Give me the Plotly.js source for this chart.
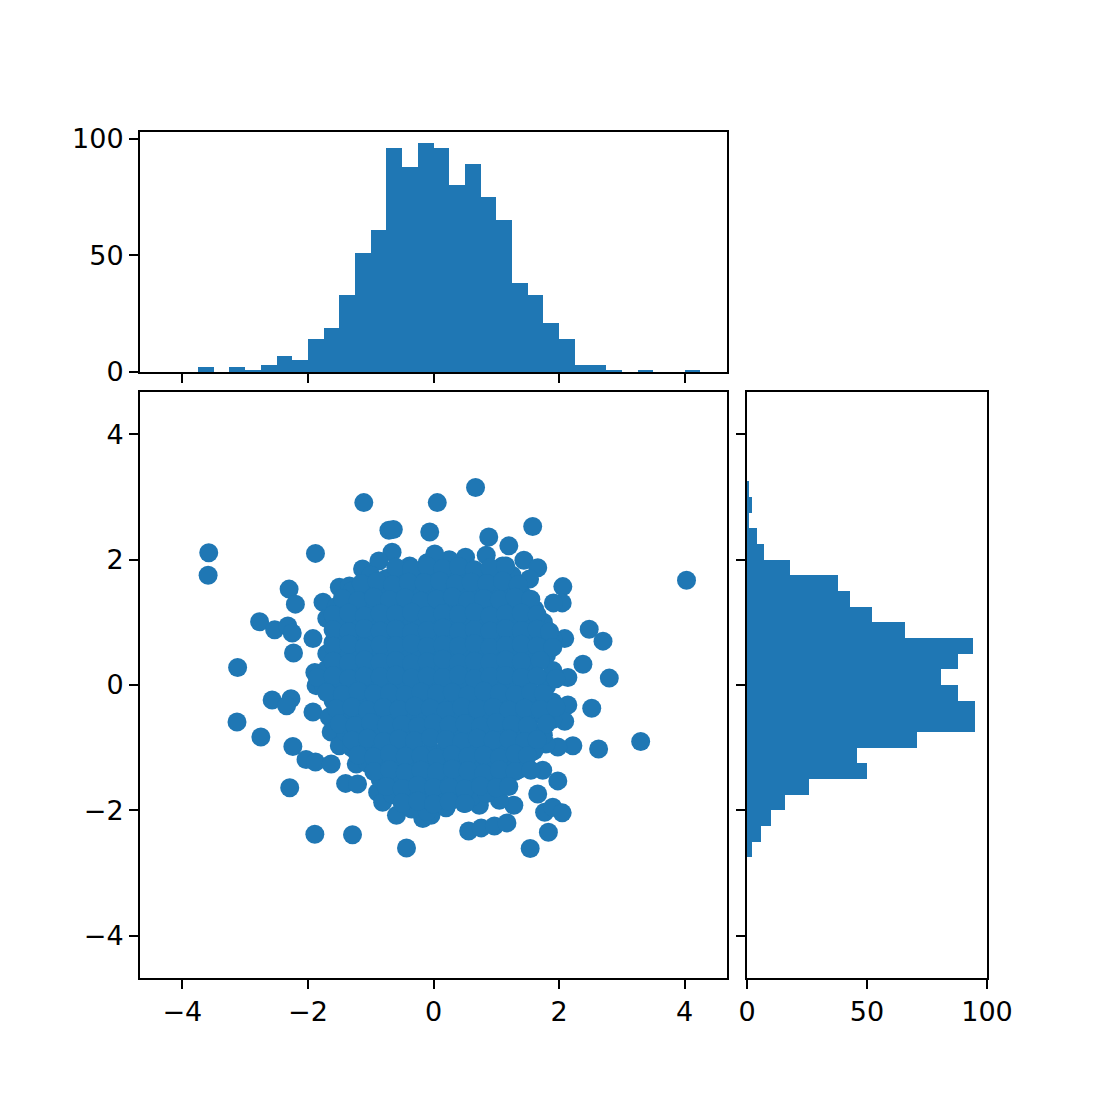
<!DOCTYPE html>
<html>
<head>
<meta charset="utf-8">
<script src="https://cdn.plot.ly/plotly-3.0.1.min.js"></script>
<style>html,body{margin:0;padding:0;background:#fff;}#chart{width:1100px;height:1100px;}</style>
</head>
<body>
<div id="chart"></div>
<script>
// Outlying scatter points
const outerX = [-3.58,-3.59,-3.12,-3.13,-2.77,-2.75,-2.57,-2.53,-2.30,-2.20,-2.32,-2.25,-2.23,-2.27,-2.34,-2.24,-2.29,-1.88,-1.89,-1.29,-0.43,-1.11,0.06,0.67,-0.71,-0.64,-0.06,1.58,0.88,1.20,-0.66,-0.87,-1.13,-0.38,-1.76,-1.70,-1.58,-1.50,-1.34,-1.92,-1.89,-1.60,4.03,0.84,1.44,1.66,2.06,2.05,1.91,2.48,2.70,2.38,2.09,2.80,2.14,1.10,1.53,1.61,1.90,-1.87,-1.92,-1.66,-1.63,-1.50,-2.03,-1.88,-1.63,-1.23,-1.40,-1.21,-0.89,-0.81,-0.59,-0.17,-0.06,2.14,2.52,2.09,3.30,2.63,2.22,1.98,1.79,1.98,1.66,1.77,1.90,2.05,1.83,1.54,0.56,0.76,0.97,1.17,1.28,1.05,0.73,0.49,-0.04,1.74,1.37,0.25,0.51,-0.10,0.02];
const outerY = [2.11,1.75,0.28,-0.59,1.01,-0.83,-0.24,0.88,1.53,1.29,0.94,0.83,0.51,-0.22,-0.33,-0.98,-1.64,2.10,-2.38,-2.39,-2.60,2.91,2.91,3.15,2.47,2.48,2.44,2.53,2.36,2.22,2.12,1.98,1.85,1.90,1.32,1.06,1.06,1.56,1.58,0.74,0.20,0.68,1.67,2.07,1.99,1.87,1.57,1.31,1.31,0.89,0.70,0.33,0.74,0.11,0.12,1.90,1.69,1.21,0.73,-0.01,-0.43,-0.51,-0.75,-0.97,-1.19,-1.23,-1.26,-1.26,-1.57,-1.58,-1.71,-1.87,-2.08,-2.13,-2.02,-0.32,-0.37,-0.58,-0.90,-1.02,-0.97,-0.99,-0.94,-1.53,-1.74,-2.03,-1.95,-2.04,-2.35,-2.61,-2.33,-2.28,-2.25,-2.20,-1.92,-1.84,-1.92,-1.89,-2.08,-1.36,-1.34,2.00,2.04,1.95,2.09];

// Dense core of the scatter (estimated)
const coreX = [
-1.0,-0.75,-0.5,-0.25,0.0,0.25,0.5,0.75,1.0,1.25,
-1.3,-1.05,-0.8,-0.55,-0.3,-0.05,0.2,0.45,0.7,0.95,1.2,1.4,
-1.55,-1.3,-1.05,-0.8,-0.55,-0.3,-0.05,0.2,0.45,0.7,0.95,1.2,1.45,
-1.45,-1.2,-0.95,-0.7,-0.45,-0.2,0.05,0.3,0.55,0.8,1.05,1.3,1.55,1.75,
-1.55,-1.3,-1.05,-0.8,-0.55,-0.3,-0.05,0.2,0.45,0.7,0.95,1.2,1.45,1.65,1.85,
-1.7,-1.45,-1.2,-0.95,-0.7,-0.45,-0.2,0.05,0.3,0.55,0.8,1.05,1.3,1.55,1.8,
-1.7,-1.45,-1.2,-0.95,-0.7,-0.45,-0.2,0.05,0.3,0.55,0.8,1.05,1.3,1.6,1.9,
-1.75,-1.5,-1.25,-1.0,-0.75,-0.5,-0.25,0.0,0.25,0.5,0.75,1.0,1.25,1.5,1.8,
-1.6,-1.35,-1.1,-0.85,-0.6,-0.35,-0.1,0.15,0.4,0.65,0.9,1.15,1.4,1.65,1.9,
-1.45,-1.2,-0.95,-0.7,-0.45,-0.2,0.05,0.3,0.55,0.8,1.05,1.3,1.55,1.75,1.9,
-1.4,-1.15,-0.9,-0.65,-0.4,-0.15,0.1,0.35,0.6,0.85,1.1,1.35,1.6,1.75,
-1.3,-1.05,-0.8,-0.55,-0.3,-0.05,0.2,0.45,0.7,0.95,1.2,1.45,1.6,
-1.05,-0.8,-0.55,-0.3,-0.05,0.2,0.45,0.7,0.95,1.2,1.45,
-0.85,-0.6,-0.35,-0.1,0.15,0.4,0.65,0.9,1.15,
-0.65,-0.4,-0.15,0.1,0.35,0.6,0.85,
-0.35,-0.1,0.2];
const coreY = [
1.75,1.7,1.78,1.72,1.76,1.7,1.74,1.78,1.7,1.75,
1.5,1.46,1.52,1.48,1.5,1.45,1.52,1.49,1.47,1.53,1.5,1.46,
1.25,1.22,1.27,1.24,1.2,1.26,1.23,1.28,1.21,1.25,1.22,1.27,1.24,
1.0,0.97,1.03,0.99,1.02,0.96,1.0,1.04,0.98,1.01,0.97,1.03,0.99,1.0,
0.75,0.72,0.78,0.74,0.76,0.71,0.75,0.79,0.73,0.77,0.72,0.76,0.74,0.78,0.73,
0.5,0.47,0.53,0.49,0.52,0.46,0.5,0.54,0.48,0.51,0.47,0.53,0.49,0.52,0.48,
0.25,0.22,0.28,0.24,0.26,0.21,0.25,0.29,0.23,0.27,0.22,0.26,0.24,0.28,0.23,
0.0,-0.03,0.03,-0.01,0.02,-0.04,0.0,0.04,-0.02,0.01,-0.03,0.03,-0.01,0.02,-0.02,
-0.25,-0.28,-0.22,-0.26,-0.24,-0.29,-0.25,-0.21,-0.27,-0.24,-0.28,-0.22,-0.26,-0.23,-0.27,
-0.5,-0.53,-0.47,-0.51,-0.49,-0.54,-0.5,-0.46,-0.52,-0.49,-0.53,-0.47,-0.51,-0.48,-0.55,
-0.75,-0.78,-0.72,-0.76,-0.74,-0.79,-0.75,-0.71,-0.77,-0.74,-0.78,-0.72,-0.76,-0.8,
-1.0,-1.03,-0.97,-1.01,-0.99,-1.04,-1.0,-0.96,-1.02,-0.99,-1.03,-0.97,-1.05,
-1.25,-1.28,-1.22,-1.26,-1.24,-1.29,-1.25,-1.21,-1.27,-1.24,-1.28,
-1.5,-1.53,-1.47,-1.51,-1.49,-1.54,-1.5,-1.46,-1.52,
-1.75,-1.78,-1.72,-1.76,-1.74,-1.79,-1.73,
-1.98,-2.02,-1.96];

// Second, staggered set of core points (estimated)
const core2X = [
-0.6,-0.35,-0.1,0.15,0.4,0.65,0.9,1.15,
-1.15,-0.9,-0.65,-0.4,-0.15,0.1,0.35,0.6,0.85,1.1,1.35,
-1.45,-1.2,-0.95,-0.7,-0.45,-0.2,0.05,0.3,0.55,0.8,1.05,1.3,1.55,
-1.6,-1.35,-1.1,-0.85,-0.6,-0.35,-0.1,0.15,0.4,0.65,0.9,1.15,1.4,1.65,
-1.6,-1.35,-1.1,-0.85,-0.6,-0.35,-0.1,0.15,0.4,0.65,0.9,1.15,1.4,1.65,1.85,
-1.6,-1.35,-1.1,-0.85,-0.6,-0.35,-0.1,0.15,0.4,0.65,0.9,1.15,1.4,1.65,1.9,
-1.6,-1.35,-1.1,-0.85,-0.6,-0.35,-0.1,0.15,0.4,0.65,0.9,1.15,1.4,1.7,
-1.85,-1.6,-1.35,-1.1,-0.85,-0.6,-0.35,-0.1,0.15,0.4,0.65,0.9,1.15,1.4,1.65,1.95,
-1.7,-1.45,-1.2,-0.95,-0.7,-0.45,-0.2,0.05,0.3,0.55,0.8,1.05,1.3,1.55,1.75,
-1.55,-1.3,-1.05,-0.8,-0.55,-0.3,-0.05,0.2,0.45,0.7,0.95,1.2,1.45,1.7,1.95,
-1.5,-1.25,-1.0,-0.75,-0.5,-0.25,0.0,0.25,0.5,0.75,1.0,1.25,1.5,1.8,
-1.3,-1.05,-0.8,-0.55,-0.3,-0.05,0.2,0.45,0.7,0.95,1.2,1.45,1.65,
-1.2,-0.95,-0.7,-0.45,-0.2,0.05,0.3,0.55,0.8,1.05,1.3,1.5,
-0.95,-0.7,-0.45,-0.2,0.05,0.3,0.55,0.8,1.05,1.3,1.55,
-0.75,-0.5,-0.25,0.0,0.25,0.5,0.75,1.0,1.2,
-0.5,-0.25,0.0,0.25,0.5];
const core2Y = [
1.88,1.85,1.9,1.86,1.89,1.84,1.87,1.9,
1.62,1.65,1.6,1.64,1.63,1.66,1.61,1.64,1.62,1.66,1.6,
1.38,1.35,1.4,1.36,1.39,1.34,1.37,1.41,1.35,1.38,1.36,1.4,1.37,
1.12,1.15,1.1,1.14,1.13,1.16,1.11,1.14,1.12,1.16,1.1,1.13,1.15,1.12,
0.88,0.85,0.9,0.86,0.89,0.84,0.87,0.91,0.85,0.88,0.86,0.9,0.87,0.89,0.85,
0.62,0.65,0.6,0.64,0.63,0.66,0.61,0.64,0.62,0.66,0.6,0.63,0.65,0.62,0.6,
0.38,0.35,0.4,0.36,0.39,0.34,0.37,0.41,0.35,0.38,0.36,0.4,0.37,0.39,
0.12,0.15,0.1,0.14,0.13,0.16,0.11,0.14,0.12,0.16,0.1,0.13,0.15,0.12,0.14,0.1,
-0.12,-0.15,-0.1,-0.14,-0.13,-0.16,-0.11,-0.14,-0.12,-0.16,-0.1,-0.13,-0.15,-0.12,-0.14,
-0.38,-0.35,-0.4,-0.36,-0.39,-0.34,-0.37,-0.41,-0.35,-0.38,-0.36,-0.4,-0.37,-0.39,-0.35,
-0.62,-0.65,-0.6,-0.64,-0.63,-0.66,-0.61,-0.64,-0.62,-0.66,-0.6,-0.63,-0.65,-0.62,
-0.88,-0.85,-0.9,-0.86,-0.89,-0.84,-0.87,-0.91,-0.85,-0.88,-0.86,-0.9,-0.87,
-1.12,-1.15,-1.1,-1.14,-1.13,-1.16,-1.11,-1.14,-1.12,-1.16,-1.1,-1.13,
-1.38,-1.35,-1.4,-1.36,-1.39,-1.34,-1.37,-1.41,-1.35,-1.38,-1.36,
-1.62,-1.65,-1.6,-1.64,-1.63,-1.66,-1.61,-1.64,-1.62,
-1.88,-1.85,-1.9,-1.86,-1.89];

// Histogram bins (left edges) and counts
const binEdges = [-4.25,-4.0,-3.75,-3.5,-3.25,-3.0,-2.75,-2.5,-2.25,-2.0,-1.75,-1.5,-1.25,-1.0,-0.75,-0.5,-0.25,0.0,0.25,0.5,0.75,1.0,1.25,1.5,1.75,2.0,2.25,2.5,2.75,3.0,3.25,3.5,3.75,4.0];
const binWidth = 0.25;
const xCounts = [0,0,2,0,2,1,3,7,5,14,19,33,51,61,96,88,98,96,80,89,75,65,38,33,21,14,3,3,1,0,1,0,0,1];
const yCounts = [0,0,0,0,0,0,2,6,10,16,26,50,46,71,95,95,88,81,88,94,66,52,43,38,18,7,4,1,2,1,0,0,0,0];

const mainTicks = [-4,-2,0,2,4];
const histTicks = [0,50,100];

const blue = '#1f77b4';
const fnt = {family: 'DejaVu Sans', size: 27, color: '#000'};

const axBase = {
  showline: true, mirror: true, linecolor: '#000', linewidth: 2,
  ticks: 'outside', ticklen: 9, tickwidth: 2, tickcolor: '#000',
  showgrid: false, zeroline: false, tickfont: fnt, fixedrange: true
};

const traces = [
  {type: 'scatter', mode: 'markers',
   x: outerX.concat(coreX, core2X), y: outerY.concat(coreY, core2Y),
   xaxis: 'x', yaxis: 'y', marker: {size: 19, color: blue, line: {width: 0}}, hoverinfo: 'skip'},
  {type: 'bar', x: binEdges, y: xCounts, width: binWidth, offset: 0,
   xaxis: 'x2', yaxis: 'y2', marker: {color: blue, line: {width: 0}}},
  {type: 'bar', orientation: 'h', y: binEdges, x: yCounts, width: binWidth, offset: 0,
   xaxis: 'x3', yaxis: 'y3', marker: {color: blue, line: {width: 0}}}
];

const layout = {
  width: 1100, height: 1100, showlegend: false,
  paper_bgcolor: '#fff', plot_bgcolor: '#fff',
  margin: {l: 0, r: 0, t: 0, b: 0},
  bargap: 0,
  font: fnt,
  xaxis: Object.assign({}, axBase, {domain: [140/1100, 727/1100], range: [-4.675, 4.675], tickvals: mainTicks, anchor: 'y'}),
  yaxis: Object.assign({}, axBase, {domain: [122/1100, 708/1100], range: [-4.675, 4.675], tickvals: mainTicks, anchor: 'x'}),
  xaxis2: Object.assign({}, axBase, {domain: [140/1100, 727/1100], range: [-4.675, 4.675], tickvals: mainTicks, showticklabels: false, anchor: 'y2'}),
  yaxis2: Object.assign({}, axBase, {domain: [728/1100, 968/1100], range: [0, 102.9], tickvals: histTicks, anchor: 'x2'}),
  xaxis3: Object.assign({}, axBase, {domain: [747/1100, 987/1100], range: [0, 100], tickvals: histTicks, anchor: 'y3'}),
  yaxis3: Object.assign({}, axBase, {domain: [122/1100, 708/1100], range: [-4.675, 4.675], tickvals: mainTicks, showticklabels: false, anchor: 'x3'})
};

Plotly.newPlot('chart', traces, layout, {staticPlot: true});
</script>
</body>
</html>
